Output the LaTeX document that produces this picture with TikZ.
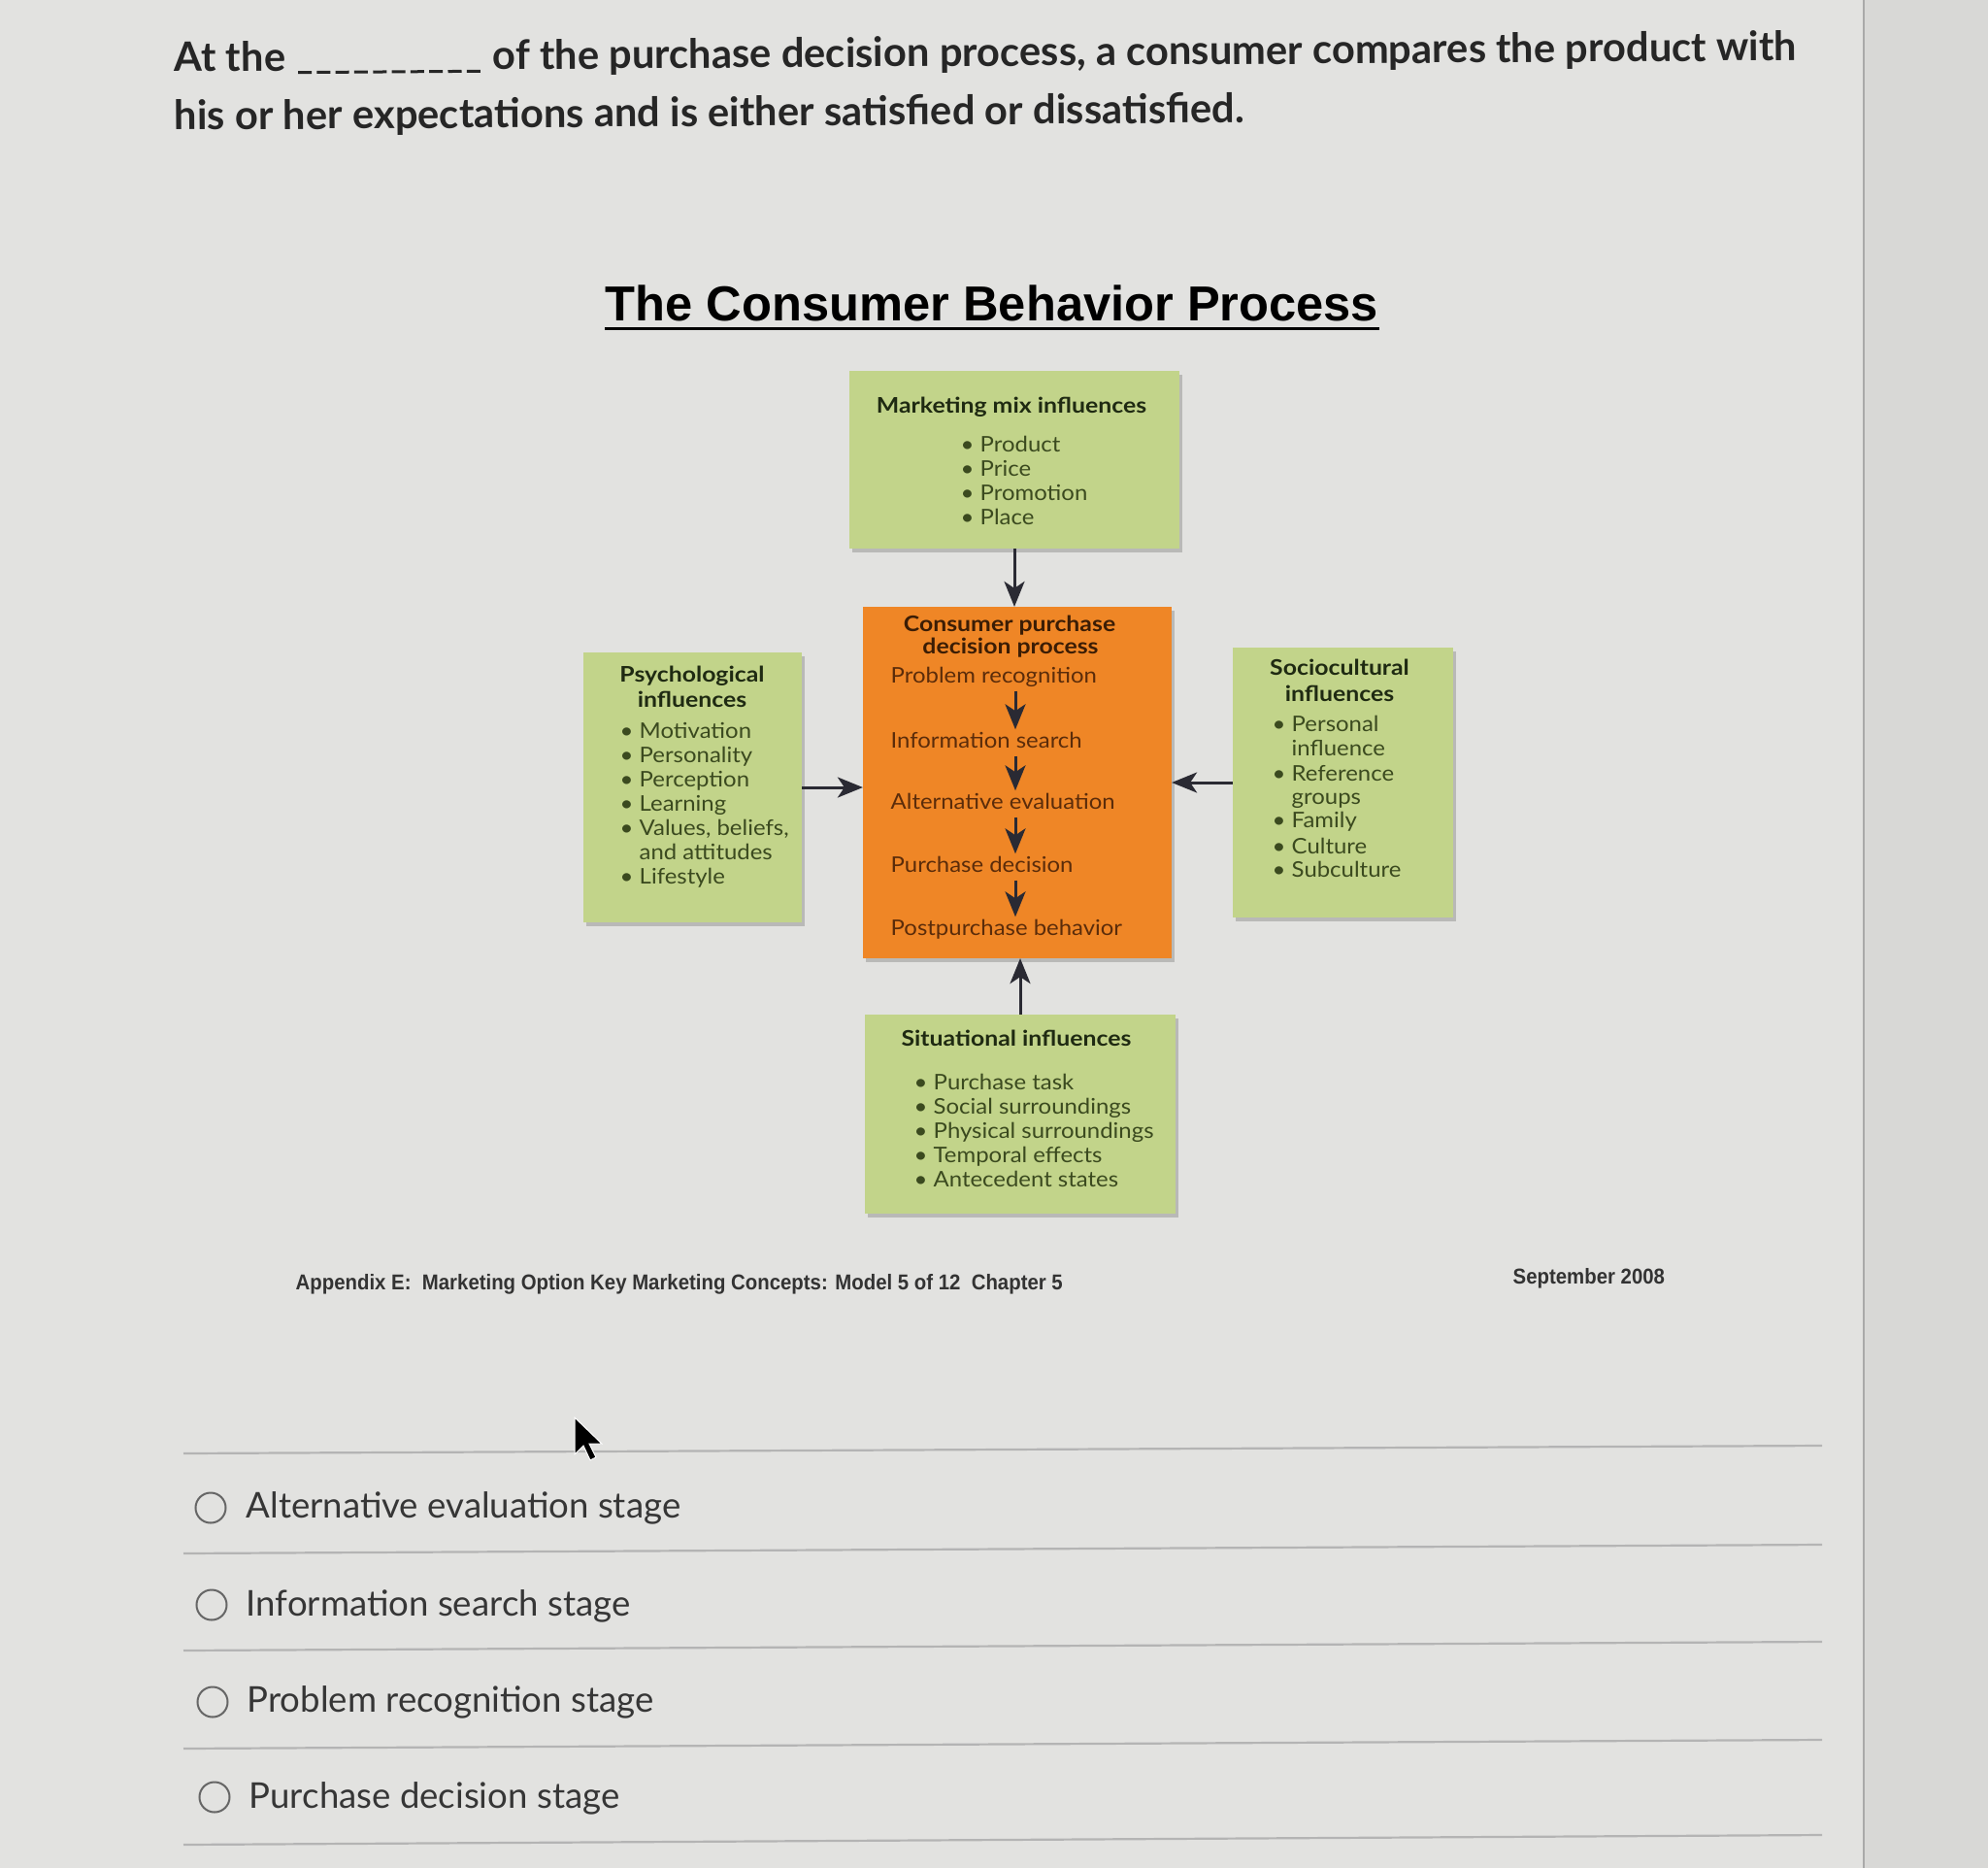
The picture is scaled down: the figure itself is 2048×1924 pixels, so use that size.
\documentclass[tikz,border=0pt]{standalone}
\usepackage{fontspec}
\setmainfont{Lato}
\newfontfamily\boxfont[FakeStretch=1.08]{Lato}
\newfontfamily\boxbold[FakeStretch=1.12]{Lato}
\newfontfamily\titlefont{Liberation Sans}
\newfontfamily\appfont[FakeStretch=0.92]{Liberation Sans}
\usetikzlibrary{arrows.meta,shadows}
\definecolor{bg}{HTML}{E2E2E0}
\definecolor{bgr}{HTML}{D8D8D6}
\definecolor{edgec}{HTML}{A9A9A9}
\definecolor{gfill}{HTML}{C2D48A}
\definecolor{ofill}{HTML}{EF8626}
\definecolor{gtitle}{HTML}{1F2A12}
\definecolor{gtext}{HTML}{3B4A1F}
\definecolor{otitle}{HTML}{3B1D05}
\definecolor{otext}{HTML}{5B2C0A}
\definecolor{qtext}{HTML}{262626}
\definecolor{opttext}{HTML}{363636}
\definecolor{sepline}{HTML}{B4B4B4}
\definecolor{arrowc}{HTML}{2A2A33}
\newcommand\qblank{\leavevmode\xleaders\hbox to 0.193cm{\hfil\rule[-0.03cm]{0.14cm}{0.03cm}\hfil}\hskip 1.93cm\relax}
\begin{document}
\begin{tikzpicture}[x=0.01cm,y=-0.01cm,
  box/.style={draw=none, inner sep=0, outer sep=0, drop shadow={shadow xshift=0.03cm, shadow yshift=-0.04cm, fill=black, opacity=0.18}},
  gbox/.style={box, fill=gfill},
  obox/.style={box, fill=ofill},
  gt/.style={anchor=base, inner sep=0, font=\boxbold\fontsize{6.3}{7}\selectfont\bfseries, text=gtitle},
  gl/.style={anchor=base west, inner sep=0, font=\boxfont\fontsize{6.3}{7}\selectfont, text=gtext},
  ot/.style={anchor=base, inner sep=0, font=\boxbold\fontsize{6.3}{7}\selectfont\bfseries, text=otitle},
  stage/.style={anchor=base west, inner sep=0, text height=0.16cm, text depth=0.05cm, font=\boxfont\fontsize{6.3}{7}\selectfont, text=otext},
  flow/.style={draw=arrowc, line width=0.03cm, -{Stealth[length=0.26cm,width=0.21cm,inset=0.07cm]}},
  qline/.style={anchor=base west, inner sep=0, rotate=0.4, font=\fontsize{11.85}{14}\selectfont\bfseries, text=qtext},
  opt/.style={anchor=base west, inner sep=0, font=\fontsize{10.4}{12}\selectfont, text=opttext},
  radio/.style={circle, draw=black!60, line width=0.02cm, minimum size=0.31cm, inner sep=0},
  sep/.style={draw=sepline, line width=0.022cm},
  app/.style={anchor=base west, inner sep=0, font=\appfont\fontsize{6.3}{7}\selectfont\bfseries, text=black!80}
]
\useasboundingbox (0,0) rectangle (2048,1924);
\fill[bg] (0,0) rectangle (2048,1924);
\fill[bgr] (1920,0) rectangle (2048,1924);
\draw[edgec, line width=0.02cm] (1920,0) -- (1920,1924);

% question
\node[qline] (q1) at (179,74) {At the \qblank\ of the purchase decision process, a consumer compares the product with};
\node[qline] (q2) at (179,134) {his or her expectations and is either satisfied or dissatisfied.};

% title
\node[anchor=base, inner sep=0, text depth=0.075cm, font=\titlefont\fontsize{14.4}{16}\selectfont\bfseries, text=black] (ttl) at (1022,330) {The Consumer Behavior Process};
\draw[black, line width=0.03cm] (ttl.south west) -- (ttl.south east);

% boxes
\node[gbox, minimum width=3.4cm, minimum height=1.83cm] (mm) at (1045,473.5) {};
\node[obox, minimum width=3.18cm, minimum height=3.62cm] (cp) at (1048,806) {};
\node[gbox, minimum width=2.25cm, minimum height=2.78cm] (ps) at (713.5,811) {};
\node[gbox, minimum width=2.27cm, minimum height=2.78cm] (sc) at (1383.5,806) {};
\node[gbox, minimum width=3.2cm, minimum height=2.05cm] (si) at (1051,1147.5) {};

% marketing mix
\node[gt] (mmt) at (1042,425) {Marketing mix influences};
\node[gl] (mm1) at (989,465) {\textbullet\ Product};
\node[gl] (mm2) at (989,490) {\textbullet\ Price};
\node[gl] (mm3) at (989,515) {\textbullet\ Promotion};
\node[gl] (mm4) at (989,540) {\textbullet\ Place};

% consumer purchase decision process
\node[ot] (cpt1) at (1040,650) {Consumer purchase};
\node[ot] (cpt2) at (1041,673) {decision process};
\node[stage] (s1) at (917,703) {Problem recognition};
\node[stage] (s2) at (917,770) {Information search};
\node[stage] (s3) at (917,833) {Alternative evaluation};
\node[stage] (s4) at (917,898) {Purchase decision};
\node[stage] (s5) at (917,963) {Postpurchase behavior};
\coordinate (ax) at (1046,0);
\draw[flow, shorten <=0.03cm, shorten >=0.02cm] (s1.south -| ax) -- (s2.north -| ax);
\draw[flow, shorten <=0.03cm, shorten >=0.02cm] (s2.south -| ax) -- (s3.north -| ax);
\draw[flow, shorten <=0.03cm, shorten >=0.02cm] (s3.south -| ax) -- (s4.north -| ax);
\draw[flow, shorten <=0.03cm, shorten >=0.02cm] (s4.south -| ax) -- (s5.north -| ax);

% psychological
\node[gt] (pst1) at (713,702) {Psychological};
\node[gt] (pst2) at (713,728) {influences};
\node[gl] (ps1) at (638,760) {\textbullet\ Motivation};
\node[gl] (ps2) at (638,785) {\textbullet\ Personality};
\node[gl] (ps3) at (638,810) {\textbullet\ Perception};
\node[gl] (ps4) at (638,835) {\textbullet\ Learning};
\node[gl] (ps5) at (638,860) {\textbullet\ Values, beliefs,};
\node[gl] (ps6) at (638,885) {\phantom{\textbullet\ }and attitudes};
\node[gl] (ps7) at (638,910) {\textbullet\ Lifestyle};

% sociocultural
\node[gt] (sct1) at (1380,695) {Sociocultural};
\node[gt] (sct2) at (1380,722) {influences};
\node[gl] (sc1) at (1310,753) {\textbullet\ Personal};
\node[gl] (sc2) at (1310,778) {\phantom{\textbullet\ }influence};
\node[gl] (sc3) at (1310,804) {\textbullet\ Reference};
\node[gl] (sc4) at (1310,828) {\phantom{\textbullet\ }groups};
\node[gl] (sc5) at (1310,852) {\textbullet\ Family};
\node[gl] (sc6) at (1310,879) {\textbullet\ Culture};
\node[gl] (sc7) at (1310,903) {\textbullet\ Subculture};

% situational
\node[gt] (sit) at (1047,1077) {Situational influences};
\node[gl] (si1) at (941,1122) {\textbullet\ Purchase task};
\node[gl] (si2) at (941,1147) {\textbullet\ Social surroundings};
\node[gl] (si3) at (941,1172) {\textbullet\ Physical surroundings};
\node[gl] (si4) at (941,1197) {\textbullet\ Temporal effects};
\node[gl] (si5) at (941,1222) {\textbullet\ Antecedent states};

% connectors
\draw[flow] (mm.south) -- (mm.south |- cp.north);
\draw[flow] (ps.east) -- (ps.east -| cp.west);
\draw[flow] (sc.west) -- (sc.west -| cp.east);
\draw[flow] (si.north) -- (si.north |- cp.south);

% appendix line
\node[app] (ap) at (304,1328) {Appendix E:\ \ Marketing Option Key Marketing Concepts: Model 5 of 12\ \ Chapter 5};
\node[app] (sep08) at (1558,1322) {September 2008};

% separators
\draw[sep] (189,1497) -- (1877,1489);
\draw[sep] (189,1600) -- (1877,1591);
\draw[sep] (189,1700) -- (1877,1691);
\draw[sep] (189,1801) -- (1877,1792);
\draw[sep] (189,1900) -- (1877,1890);

% options
\node[radio] (r1) at (217,1553) {};
\node[opt] (o1) at (253,1563) {Alternative evaluation stage};
\node[radio] (r2) at (218,1653) {};
\node[opt] (o2) at (253,1664) {Information search stage};
\node[radio] (r3) at (219,1753) {};
\node[opt] (o3) at (254,1763) {Problem recognition stage};
\node[radio] (r4) at (221,1851) {};
\node[opt] (o4) at (256,1862) {Purchase decision stage};

% mouse pointer
\fill[black, draw=white, line width=0.01cm] (592,1460) -- ++(0,38) -- ++(9,-9) -- ++(7,15) -- ++(6,-3) -- ++(-7,-14) -- ++(13,0) -- cycle;
\end{tikzpicture}
\end{document}
